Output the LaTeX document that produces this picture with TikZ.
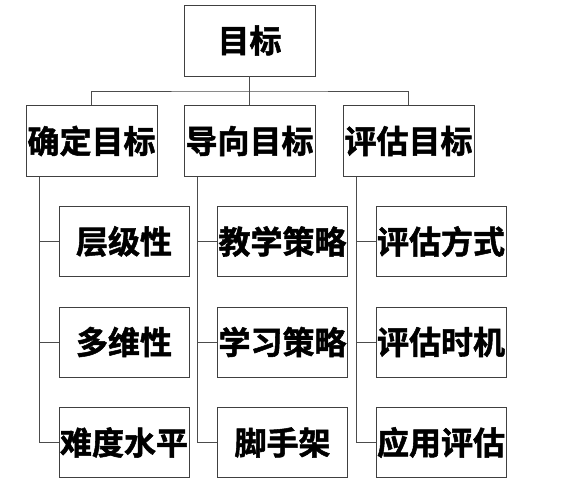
\documentclass[tikz,border=0pt]{standalone}
\usepackage{fontspec}
\newfontfamily\cjk{Noto Sans CJK SC}[BoldFont={Noto Sans CJK SC Bold},BoldFeatures={FakeBold=1.6}]
\begin{document}
\begin{tikzpicture}[x=1pt,y=-1pt,
    box/.style={draw=black!75,line width=0.9pt,minimum width=131pt,minimum height=71pt,
      inner sep=0pt,font=\cjk\bfseries\fontsize{32}{32}\selectfont},
    link/.style={draw=black!70,line width=0.9pt}]
        \useasboundingbox (0,0) rectangle (564,494);
        \node[box] (goal) at (249.5,40.5) {目标};
        %
        \node[box] (fix) at (91.5,141) {确定目标};
        \node[box] (lead) at (249.5,141) {导向目标};
        \node[box] (eval) at (408.5,141) {评估目标};
        %
        \node[box,minimum width=130pt,minimum height=70pt] (fix1) at (124,241.5) {层级性};
        \node[box,minimum width=130pt,minimum height=70pt] (fix2) at (124,342) {多维性};
        \node[box,minimum width=130pt,minimum height=70pt] (fix3) at (124,442.5) {难度水平};
        %
        \node[box,minimum width=130pt,minimum height=70pt] (lead1) at (282.5,241.5) {教学策略};
        \node[box,minimum width=130pt,minimum height=70pt] (lead2) at (282.5,342) {学习策略};
        \node[box,minimum width=130pt,minimum height=70pt] (lead3) at (282.5,442.5) {脚手架};
        %
        \node[box,minimum width=130pt,minimum height=70pt] (eval1) at (441,241.5) {评估方式};
        \node[box,minimum width=130pt,minimum height=70pt] (eval2) at (441,342) {评估时机};
        \node[box,minimum width=130pt,minimum height=70pt] (eval3) at (441,442.5) {应用评估};
        %
        \coordinate (bus) at (249.5,91);
        \draw[link] (goal.south) -- (lead.north);
        \draw[link] (fix.north) |- (bus) -| (eval.north);
        %
        \foreach \g in {fix,lead,eval}
          \foreach \i in {1,2,3}
            \draw[link] ([xshift=13.5pt]\g.south west) |- (\g\i.west);
    \end{tikzpicture}
\end{document}
